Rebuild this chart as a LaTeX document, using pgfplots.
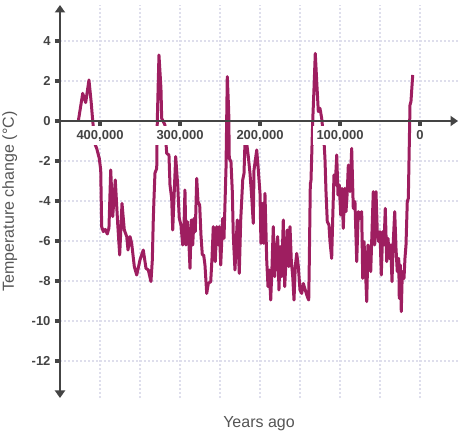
\documentclass[border=0pt]{standalone}
\usepackage{pgfplots}
\pgfplotsset{compat=1.18}
\usepackage{fontspec}
\setmainfont{Liberation Sans}
\usetikzlibrary{arrows.meta}

\definecolor{curve}{RGB}{158,30,96}
\definecolor{axisgray}{RGB}{68,68,68}
\definecolor{gridc}{RGB}{222,222,236}
\definecolor{labelgray}{RGB}{85,85,85}

% same as the standard layers, but axis lines and tick labels above the curve
\pgfplotsset{
  layers/curvebelow/.define layer set={
    axis background,axis grid,pre main,main,axis ticks,axis lines,axis tick labels,axis descriptions,axis foreground
  }{
    grid style={/pgfplots/on layer=axis grid},
    tick style={/pgfplots/on layer=axis ticks},
    axis line style={/pgfplots/on layer=axis lines},
    label style={/pgfplots/on layer=axis descriptions},
    legend style={/pgfplots/on layer=axis descriptions},
    title style={/pgfplots/on layer=axis descriptions},
    colorbar style={/pgfplots/on layer=axis descriptions},
    ticklabel style={/pgfplots/on layer=axis tick labels},
    axis background@ style={/pgfplots/on layer=axis background},
    3d box foreground style={/pgfplots/on layer=axis foreground},
  },
}

\begin{document}
\begin{tikzpicture}
\begin{axis}[
  set layers=curvebelow,
  scale only axis,
  width=398bp, height=393bp,
  xmin=-450, xmax=47.5,
  ymin=-13.85, ymax=5.8,
  axis x line=middle,
  axis y line=left,
  x axis line style={axisgray, line width=2.8bp, -{Triangle[width=10bp,length=7.5bp]}},
  y axis line style={axisgray, line width=2.8bp, {Triangle[width=10bp,length=7.5bp]}-{Triangle[width=10bp,length=7.5bp]}},
  xtick={-400,-300,-200,-100,0},
  xticklabels={400{,}000,300{,}000,200{,}000,100{,}000,0},
  minor xtick={-350,-250,-150,-50},
  ytick={-12,-10,-8,-6,-4,-2,0,2,4},
  yticklabels={-12,-10,-8,-6,-4,-2,0,2,4},
  hide obscured x ticks=false,
  hide obscured y ticks=false,
  grid=both,
  major grid style={gridc, line width=1.3bp, dash pattern=on 2bp off 2bp},
  minor grid style={gridc, line width=1.3bp, dash pattern=on 2bp off 2bp},
  tick align=outside,
  major tick length=5bp,
  minor tick length=0bp,
  tick style={axisgray, line width=4bp},
  ticklabel style={font=\fontsize{13bp}{15bp}\selectfont\bfseries, text=axisgray},
  xticklabel style={fill=white, inner sep=4bp},
  yticklabel style={xshift=-1bp},
  every axis x label/.style={at={(axis description cs:0.5,-0.066)}, anchor=center},
  every axis y label/.style={at={(axis description cs:-0.126,0.5)}, rotate=90, anchor=center},
  label style={font=\fontsize{16bp}{18bp}\selectfont, text=labelgray},
  xlabel={Years ago},
  ylabel={Temperature change (°C)},
]
\addplot[curve, line width=3bp, line join=round] coordinates {
(-427.1,0.0) (-421.6,1.38) (-417.9,0.92) (-413.8,2.05) (-410.9,0.88) (-409.1,0.0)
(-405.9,-1.2) (-404.1,-1.37) (-400.9,-1.87) (-399.1,-2.45) (-397.9,-5.28) (-395.9,-5.53)
(-393.4,-5.42) (-390.9,-5.65) (-388.8,-5.35) (-386.6,-2.45) (-384.1,-4.78) (-380.9,-2.95)
(-377.9,-5.12) (-375.4,-6.7) (-372.5,-4.12) (-369.6,-5.45) (-366.6,-5.78) (-365.0,-6.45)
(-362.5,-5.78) (-360.4,-6.12) (-357.1,-7.28) (-354.1,-7.7) (-350.0,-6.95) (-345.9,-6.45)
(-342.5,-7.37) (-339.6,-7.45) (-336.3,-8.03) (-334.6,-6.95) (-333.4,-4.95) (-332.5,-3.87)
(-331.3,-2.6) (-329.1,-2.37) (-328.4,-0.03) (-326.3,3.3) (-323.8,1.63) (-322.9,0.13)
(-318.8,-0.2) (-317.5,-1.12) (-316.6,-1.62) (-313.8,-1.7) (-312.5,-3.2) (-310.4,-3.87)
(-309.1,-5.45) (-307.5,-3.87) (-305.4,-1.78) (-302.9,-3.2) (-300.9,-4.87) (-298.8,-5.2)
(-296.6,-6.2) (-295.4,-5.87) (-293.8,-3.45) (-292.5,-6.2) (-290.9,-5.03) (-289.1,-5.87)
(-287.5,-7.37) (-285.9,-4.95) (-284.1,-6.2) (-282.5,-4.87) (-280.9,-5.53) (-279.1,-2.87)
(-277.5,-4.03) (-275.4,-4.2) (-273.8,-5.7) (-272.1,-6.7) (-270.4,-6.7) (-268.8,-7.2)
(-266.6,-8.62) (-264.6,-8.12) (-261.6,-8.03) (-260.0,-6.87) (-258.4,-5.28) (-255.9,-7.03)
(-254.1,-5.28) (-252.1,-6.2) (-250.9,-5.28) (-249.1,-7.2) (-246.6,-4.87) (-245.0,-5.87)
(-242.5,-2.37) (-240.9,2.22) (-239.1,0.47) (-238.4,-1.87) (-236.3,-2.03) (-234.6,-3.53)
(-233.4,-5.7) (-231.3,-7.45) (-230.0,-6.28) (-228.4,-4.95) (-225.9,-7.62) (-224.1,-4.95)
(-221.6,-2.95) (-220.0,-2.62) (-218.8,-1.12) (-216.6,-1.12) (-214.6,-1.78) (-212.5,-2.62)
(-210.4,-3.78) (-208.4,-5.12) (-207.5,-2.45) (-204.1,-1.45) (-202.1,-2.45) (-200.0,-3.62)
(-198.8,-6.12) (-197.1,-4.12) (-195.4,-6.12) (-193.8,-3.62) (-191.6,-6.95) (-190.0,-8.28)
(-188.4,-7.45) (-186.6,-8.95) (-185.0,-7.28) (-183.4,-5.28) (-181.6,-7.78) (-180.0,-6.62)
(-177.9,-5.78) (-176.3,-8.45) (-174.6,-6.28) (-172.9,-7.78) (-170.9,-4.95) (-169.1,-8.28)
(-167.5,-6.95) (-165.9,-5.45) (-164.1,-7.28) (-162.5,-5.28) (-160.9,-6.95) (-159.1,-7.78)
(-157.5,-8.95) (-155.9,-7.28) (-154.1,-6.62) (-152.1,-7.28) (-150.0,-8.45) (-147.9,-8.62)
(-145.9,-8.12) (-143.4,-8.45) (-140.9,-8.78) (-139.1,-8.95) (-138.4,-7.12) (-137.1,-3.12)
(-136.3,-3.03) (-134.1,0.0) (-132.5,1.63) (-130.9,3.38) (-129.1,1.97) (-127.1,0.47)
(-125.0,0.63) (-122.9,0.13) (-121.6,-0.37) (-120.0,-1.03) (-118.8,-1.87) (-117.5,-3.53)
(-115.9,-5.03) (-113.8,-5.2) (-112.5,-6.03) (-110.4,-6.87) (-109.1,-4.87) (-107.5,-2.7)
(-105.9,-3.2) (-104.1,-1.7) (-102.5,-3.7) (-100.9,-3.2) (-99.1,-4.7) (-97.5,-3.37)
(-95.9,-5.37) (-94.1,-3.37) (-92.5,-4.53) (-90.9,-3.53) (-89.6,-2.2) (-87.5,-3.53)
(-85.4,-1.37) (-83.4,-4.37) (-81.3,-4.03) (-79.1,-7.03) (-77.1,-4.53) (-75.0,-4.87)
(-72.9,-4.53) (-71.6,-7.87) (-70.0,-6.03) (-68.4,-7.2) (-66.6,-9.03) (-65.0,-6.2)
(-63.4,-6.37) (-61.6,-7.53) (-60.0,-5.53) (-58.4,-3.53) (-56.6,-6.2) (-55.0,-3.53)
(-53.4,-5.53) (-51.6,-6.03) (-50.0,-5.53) (-48.4,-7.7) (-46.6,-5.53) (-45.0,-6.2)
(-43.4,-4.37) (-41.6,-7.03) (-40.0,-5.87) (-38.4,-6.87) (-36.6,-6.2) (-35.0,-8.03)
(-33.4,-6.03) (-31.6,-4.53) (-30.0,-6.37) (-28.4,-7.53) (-26.6,-6.87) (-25.9,-8.87)
(-24.6,-7.2) (-23.4,-9.53) (-22.1,-7.53) (-20.0,-7.87) (-18.8,-6.87) (-17.5,-6.2)
(-15.9,-4.03) (-14.6,-3.87) (-13.4,-1.2) (-12.5,0.8) (-11.3,0.97) (-9.1,2.3)
};
\end{axis}
\pgfresetboundingbox
\path[use as bounding box] ([shift={(-60bp,-37bp)}]current axis.south west) rectangle ([shift={(6bp,5bp)}]current axis.north east);
\end{tikzpicture}
\end{document}
